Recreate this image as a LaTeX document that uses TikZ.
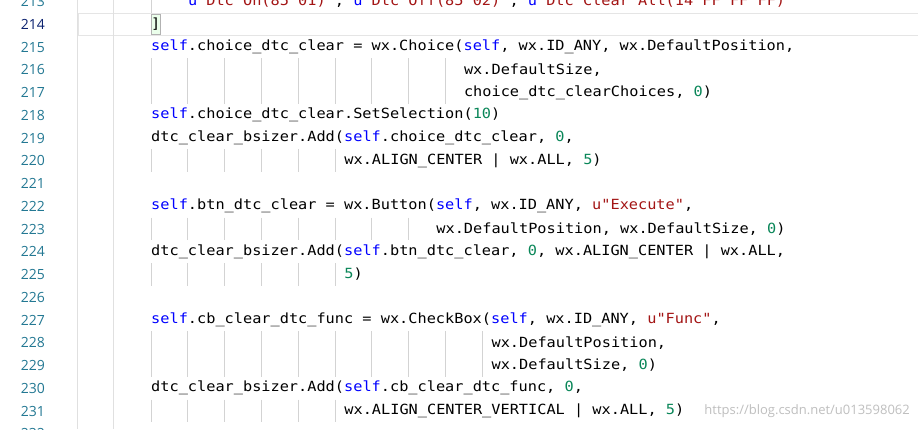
\documentclass[tikz,border=0pt]{standalone}
\usepackage{fontspec}
\newfontfamily\codefont[FakeStretch=1.09]{DejaVu Sans Mono}
\newfontfamily\numfont{Open Sans}
\definecolor{kw}{HTML}{0000FF}
\definecolor{nm}{HTML}{098658}
\definecolor{st}{HTML}{A31515}
\definecolor{ln}{HTML}{237893}
\definecolor{lncur}{HTML}{0B216F}
\definecolor{guide}{HTML}{D3D3D3}
\newcommand\kw[1]{\textcolor{kw}{#1}}
\newcommand\nm[1]{\textcolor{nm}{#1}}
\newcommand\st[1]{\textcolor{st}{#1}}
\tikzset{
  code/.style={anchor=west,inner sep=0pt,font=\codefont\fontsize{14}{16}\selectfont,text=black},
  lnum/.style={anchor=east,inner sep=0pt,font=\numfont\fontsize{14}{16}\selectfont,text=ln},
  guideline/.style={draw=guide,line width=0.8pt}
}
\newcommand\Y[1]{-(47+(#1-215)*22.75)}
\begin{document}
\begin{tikzpicture}[x=1pt,y=1pt]
\useasboundingbox (0,0) rectangle (918,-429);
\clip (0,0) rectangle (918,-429);
\fill[white] (0,0) rectangle (918,-429);
% current line highlight
\draw[draw=black!10,line width=1.5pt] (78,{\Y{214}+11}) rectangle (925,{\Y{214}-11});
\fill[green!8] (151,{\Y{214}+10}) rectangle (160,{\Y{214}-10});
\draw[black!30,line width=0.6pt] (151,{\Y{214}+10}) rectangle (160,{\Y{214}-10});
% gutter lines
\draw[black!12] (77,0) -- (77,-429);
\draw[black!12] (113,0) -- (113,-429);
% line numbers
\foreach \n in {213,215,216,...,232} \node[lnum] (n\n) at (45,{\Y{\n}}) {\n};
\node[lnum,text=lncur] (n214) at (45,{\Y{214}}) {214};
% indent guides
\newcommand\guides[3]{\foreach \k in {1,...,#3} \draw[guideline] ({151+(\k-1)*36.8},{\Y{#1}+11.4}) -- ({151+(\k-1)*36.8},{\Y{#2}-11.4});}
\guides{213}{213}{1}
\guides{216}{217}{9}
\guides{220}{220}{6}
\guides{223}{223}{8}
\guides{225}{225}{6}
\guides{228}{229}{10}
\guides{231}{231}{6}
% code
\newcommand\cx[1]{{151+#1*9.2}}
\node[code] (c213) at (\cx{4},{\Y{213}}) {\kw{u}\st{"Dtc On(85 01)"}, \kw{u}\st{"Dtc Off(85 02)"}, \kw{u}\st{"Dtc Clear All(14 FF FF FF)"}};
\node[code] (c214) at (\cx{0},{\Y{214}}) {]};
\node[code] (c215) at (\cx{0},{\Y{215}}) {\kw{self}.choice\_dtc\_clear = wx.Choice(\kw{self}, wx.ID\_ANY, wx.DefaultPosition,};
\node[code] (c216) at (\cx{34},{\Y{216}}) {wx.DefaultSize,};
\node[code] (c217) at (\cx{34},{\Y{217}}) {choice\_dtc\_clearChoices, \nm{0})};
\node[code] (c218) at (\cx{0},{\Y{218}}) {\kw{self}.choice\_dtc\_clear.SetSelection(\nm{10})};
\node[code] (c219) at (\cx{0},{\Y{219}}) {dtc\_clear\_bsizer.Add(\kw{self}.choice\_dtc\_clear, \nm{0},};
\node[code] (c220) at (\cx{21},{\Y{220}}) {wx.ALIGN\_CENTER | wx.ALL, \nm{5})};
\node[code] (c222) at (\cx{0},{\Y{222}}) {\kw{self}.btn\_dtc\_clear = wx.Button(\kw{self}, wx.ID\_ANY, \st{u"Execute"},};
\node[code] (c223) at (\cx{31},{\Y{223}}) {wx.DefaultPosition, wx.DefaultSize, \nm{0})};
\node[code] (c224) at (\cx{0},{\Y{224}}) {dtc\_clear\_bsizer.Add(\kw{self}.btn\_dtc\_clear, \nm{0}, wx.ALIGN\_CENTER | wx.ALL,};
\node[code] (c225) at (\cx{21},{\Y{225}}) {\nm{5})};
\node[code] (c227) at (\cx{0},{\Y{227}}) {\kw{self}.cb\_clear\_dtc\_func = wx.CheckBox(\kw{self}, wx.ID\_ANY, \st{u"Func"},};
\node[code] (c228) at (\cx{37},{\Y{228}}) {wx.DefaultPosition,};
\node[code] (c229) at (\cx{37},{\Y{229}}) {wx.DefaultSize, \nm{0})};
\node[code] (c230) at (\cx{0},{\Y{230}}) {dtc\_clear\_bsizer.Add(\kw{self}.cb\_clear\_dtc\_func, \nm{0},};
\node[code] (c231) at (\cx{21},{\Y{231}}) {wx.ALIGN\_CENTER\_VERTICAL | wx.ALL, \nm{5})};
% watermark
\node[anchor=east,inner sep=0pt,font=\numfont\fontsize{13}{15}\selectfont,text=black!25] (wm) at (910,{\Y{231}}) {https://blog.csdn.net/u013598062};
\end{tikzpicture}
\end{document}
